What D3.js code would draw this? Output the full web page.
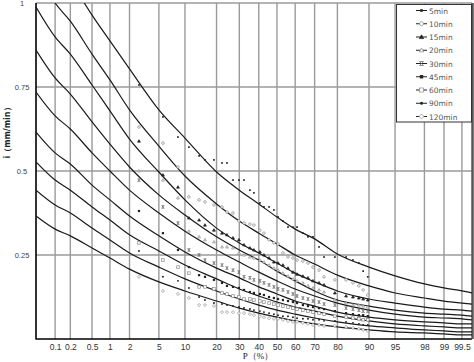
<!DOCTYPE html>
<html>
<head>
<meta charset="utf-8">
<script src="https://cdn.jsdelivr.net/npm/d3@7"></script>
<style>
  body { margin: 0; background: #fff; }
  svg { display: block; }
</style>
</head>
<body>
<div id="chart"></div>
<script>
// etiquetas y ejes
const durations = ["5min", "10min", "15min", "20min", "30min", "45min", "60min", "90min", "120min"];
const markers = ["dot", "circleOpen", "triFill", "triOpen", "hourglass", "squareFill", "squareOpen", "dot2", "diamondOpen"];
const pTicks = [0.1, 0.2, 0.5, 1, 2, 5, 10, 20, 30, 40, 50, 60, 70, 80, 90, 95, 98, 99, 99.5];
const yTicks = [0.25, 0.5, 0.75, 1];

// curvas ajustadas, P en %
const curveP = [0.0395, 0.1, 0.2, 0.5, 1, 2, 5, 10, 20, 30, 40, 50, 60, 70, 80, 90, 95, 98, 99, 99.5, 99.67];
const fit5 = [1.226, 1.125, 1.065, 0.964, 0.887, 0.804, 0.682, 0.598, 0.497, 0.443, 0.402, 0.363, 0.327, 0.298, 0.253, 0.214, 0.188, 0.164, 0.152, 0.143, 0.137];
const fit10 = [1.098, 1.0, 0.946, 0.848, 0.771, 0.682, 0.574, 0.485, 0.402, 0.351, 0.315, 0.283, 0.25, 0.223, 0.19, 0.158, 0.137, 0.122, 0.113, 0.107, 0.104];
const fit15 = [0.988, 0.899, 0.848, 0.756, 0.679, 0.595, 0.497, 0.414, 0.33, 0.286, 0.256, 0.226, 0.196, 0.17, 0.143, 0.119, 0.107, 0.095, 0.089, 0.086, 0.083];
const fit20 = [0.86, 0.777, 0.729, 0.646, 0.58, 0.512, 0.429, 0.369, 0.304, 0.265, 0.235, 0.202, 0.173, 0.143, 0.116, 0.098, 0.086, 0.077, 0.074, 0.071, 0.068];
const fit30 = [0.735, 0.664, 0.625, 0.554, 0.5, 0.443, 0.375, 0.321, 0.265, 0.229, 0.199, 0.173, 0.149, 0.128, 0.107, 0.086, 0.074, 0.065, 0.0625, 0.06, 0.057];
const fit45 = [0.616, 0.554, 0.521, 0.458, 0.414, 0.366, 0.307, 0.259, 0.211, 0.182, 0.155, 0.134, 0.113, 0.098, 0.08, 0.065, 0.057, 0.051, 0.048, 0.045, 0.045];
const fit60 = [0.527, 0.473, 0.443, 0.393, 0.354, 0.31, 0.262, 0.22, 0.179, 0.149, 0.128, 0.11, 0.095, 0.083, 0.068, 0.054, 0.045, 0.039, 0.036, 0.033, 0.033];
const fit90 = [0.443, 0.399, 0.375, 0.33, 0.295, 0.256, 0.214, 0.179, 0.143, 0.119, 0.101, 0.086, 0.074, 0.0625, 0.051, 0.039, 0.033, 0.027, 0.024, 0.021, 0.021];
const fit120 = [0.366, 0.327, 0.307, 0.271, 0.241, 0.208, 0.17, 0.143, 0.113, 0.092, 0.077, 0.065, 0.054, 0.045, 0.036, 0.027, 0.021, 0.018, 0.015, 0.012, 0.012];

// puntos observados (frecuencia empirica en %)
const obsP = [2.73, 5.61, 8.4, 11.0, 13.9, 15.8, 19.0, 22.2, 24.3, 27.0, 29.8, 32.3, 35.3, 37.4, 40.6, 42.8, 45.6, 48.3, 50.6, 53.3, 56.1, 58.8, 61.0, 64.1, 66.7, 69.2, 72.1, 74.4, 79.0, 83.2, 85.5, 87.3, 88.5, 89.7];
const obs5 = [0.756, 0.661, 0.601, 0.571, 0.545, 0.533, 0.533, 0.524, 0.524, 0.473, 0.473, 0.473, 0.443, 0.435, 0.405, 0.393, 0.393, 0.384, 0.363, 0.351, 0.333, 0.333, 0.333, 0.315, 0.304, 0.304, 0.274, 0.244, 0.244, 0.244, 0.235, 0.226, 0.202, 0.185];
const obs10 = [0.631, 0.583, 0.512, 0.423, 0.414, 0.408, 0.399, 0.393, 0.378, 0.375, 0.351, 0.345, 0.342, 0.339, 0.324, 0.315, 0.295, 0.286, 0.283, 0.256, 0.244, 0.241, 0.235, 0.232, 0.226, 0.214, 0.205, 0.185, 0.176, 0.176, 0.167, 0.158, 0.146, 0.131];
const obs15 = [0.589, 0.488, 0.452, 0.36, 0.354, 0.339, 0.324, 0.315, 0.31, 0.301, 0.295, 0.28, 0.271, 0.265, 0.259, 0.25, 0.241, 0.229, 0.226, 0.22, 0.211, 0.199, 0.193, 0.187, 0.182, 0.173, 0.167, 0.161, 0.137, 0.128, 0.125, 0.122, 0.119, 0.116];
const obs20 = [0.5, 0.473, 0.42, 0.321, 0.304, 0.295, 0.289, 0.274, 0.274, 0.271, 0.256, 0.25, 0.244, 0.241, 0.235, 0.229, 0.22, 0.211, 0.205, 0.196, 0.187, 0.179, 0.173, 0.167, 0.158, 0.152, 0.146, 0.14, 0.116, 0.107, 0.101, 0.101, 0.098, 0.095];
const obs30 = [0.473, 0.393, 0.345, 0.265, 0.25, 0.235, 0.226, 0.22, 0.211, 0.205, 0.199, 0.185, 0.182, 0.176, 0.173, 0.167, 0.161, 0.155, 0.149, 0.146, 0.14, 0.134, 0.128, 0.122, 0.119, 0.113, 0.11, 0.104, 0.101, 0.092, 0.089, 0.086, 0.083, 0.083];
const obs45 = [0.381, 0.315, 0.265, 0.214, 0.19, 0.185, 0.176, 0.167, 0.158, 0.155, 0.152, 0.146, 0.14, 0.137, 0.134, 0.131, 0.125, 0.122, 0.119, 0.116, 0.113, 0.11, 0.107, 0.101, 0.098, 0.095, 0.092, 0.089, 0.083, 0.077, 0.074, 0.071, 0.071, 0.068];
const obs60 = [0.286, 0.235, 0.214, 0.196, 0.155, 0.155, 0.149, 0.137, 0.134, 0.128, 0.125, 0.119, 0.119, 0.116, 0.113, 0.11, 0.107, 0.104, 0.101, 0.098, 0.095, 0.092, 0.089, 0.086, 0.083, 0.08, 0.077, 0.074, 0.068, 0.065, 0.062, 0.06, 0.057, 0.057];
const obs90 = [0.262, 0.185, 0.173, 0.152, 0.125, 0.116, 0.107, 0.104, 0.101, 0.098, 0.095, 0.092, 0.089, 0.086, 0.083, 0.08, 0.077, 0.074, 0.071, 0.068, 0.068, 0.065, 0.062, 0.06, 0.06, 0.057, 0.057, 0.054, 0.054, 0.051, 0.048, 0.045, 0.042, 0.042];
const obs120 = [0.185, 0.143, 0.134, 0.122, 0.101, 0.101, 0.098, 0.08, 0.08, 0.08, 0.077, 0.077, 0.074, 0.071, 0.068, 0.065, 0.062, 0.06, 0.06, 0.057, 0.054, 0.051, 0.051, 0.048, 0.045, 0.042, 0.042, 0.039, 0.039, 0.036, 0.033, 0.03, 0.027, 0.024];

const fits = [fit5, fit10, fit15, fit20, fit30, fit45, fit60, fit90, fit120];
const obs = [obs5, obs10, obs15, obs20, obs30, obs45, obs60, obs90, obs120];

// inversa de la normal (papel de probabilidad)
function probit(p) {
  const a = [-39.69683028665376, 220.9460984245205, -275.9285104469687, 138.357751867269, -30.66479806614716, 2.506628277459239];
  const b = [-54.47609879822406, 161.5858368580409, -155.6989798598866, 66.80131188771972, -13.28068155288572];
  const c = [-0.007784894002430293, -0.3223964580411365, -2.400758277161838, -2.549671010331024, 4.374664141464968, 2.938163982698783];
  const d = [0.007784695709041462, 0.3224671290700398, 2.445134137142996, 3.754408661907416];
  const pl = 0.02425;
  let q, r;
  if (p < pl) {
    q = Math.sqrt(-2 * Math.log(p));
    return (((((c[0]*q+c[1])*q+c[2])*q+c[3])*q+c[4])*q+c[5]) / ((((d[0]*q+d[1])*q+d[2])*q+d[3])*q+1);
  }
  if (p <= 1 - pl) {
    q = p - 0.5; r = q * q;
    return (((((a[0]*r+a[1])*r+a[2])*r+a[3])*r+a[4])*r+a[5])*q / (((((b[0]*r+b[1])*r+b[2])*r+b[3])*r+b[4])*r+1);
  }
  q = Math.sqrt(-2 * Math.log(1 - p));
  return -(((((c[0]*q+c[1])*q+c[2])*q+c[3])*q+c[4])*q+c[5]) / ((((d[0]*q+d[1])*q+d[2])*q+d[3])*q+1);
}

const W = 474, H = 362;
const mLeft = 36, mRight = 472, mTop = 3, mBottom = 339;

const svg = d3.select("#chart").append("svg")
  .attr("width", W).attr("height", H)
  .style("font-family", "'DejaVu Sans', sans-serif");

const x = d3.scaleLinear()
  .domain([probit(0.000395), probit(0.9967)])
  .range([mLeft, mRight]);
const px = p => x(probit(p / 100));
const y = d3.scaleLinear().domain([0, 1]).range([mBottom, mTop]);

// rejilla
const grid = svg.append("g").attr("stroke", "#9a9a9a").attr("stroke-width", 1.4);
grid.selectAll("line.v").data(pTicks).join("line").attr("class", "v")
  .attr("x1", d => px(d)).attr("x2", d => px(d))
  .attr("y1", mTop).attr("y2", mBottom);
grid.selectAll("line.h").data(yTicks).join("line").attr("class", "h")
  .attr("x1", mLeft).attr("x2", mRight)
  .attr("y1", d => y(d)).attr("y2", d => y(d));

// eje X
const xAxis = svg.append("g")
  .attr("transform", `translate(0,${mBottom})`)
  .call(d3.axisBottom(x)
    .tickValues(pTicks.map(p => probit(p / 100)))
    .tickFormat((d, i) => pTicks[i])
    .tickSize(0).tickPadding(5));
xAxis.select(".domain").remove();
xAxis.selectAll("text").attr("font-size", 8.5).attr("fill", "#333");

// eje Y
const yAxis = svg.append("g")
  .attr("transform", `translate(${mLeft},0)`)
  .call(d3.axisLeft(y).tickValues(yTicks).tickFormat(d => String(d)).tickSize(0).tickPadding(6));
yAxis.select(".domain").remove();
yAxis.selectAll("text").attr("font-size", 7.5).attr("fill", "#444")
  .attr("text-anchor", "middle").attr("x", -14);

// lineas de los ejes
svg.append("line").attr("x1", mLeft).attr("x2", mLeft).attr("y1", mTop).attr("y2", mBottom + 0.5)
  .attr("stroke", "#000").attr("stroke-width", 1.6);
svg.append("line").attr("x1", mLeft).attr("x2", mRight).attr("y1", mBottom).attr("y2", mBottom)
  .attr("stroke", "#000").attr("stroke-width", 1.6);
svg.append("line").attr("x1", mRight + 0.5).attr("x2", mRight + 0.5).attr("y1", mTop).attr("y2", mBottom)
  .attr("stroke", "#555").attr("stroke-width", 2.5);

// titulos
svg.append("text")
  .attr("transform", `translate(10,${(mTop + mBottom) / 2 - 40}) rotate(-90)`)
  .attr("text-anchor", "middle").attr("font-size", 8).attr("font-weight", "bold")
  .attr("fill", "#222").text("i（mm/min）");
svg.append("text")
  .attr("x", 258).attr("y", 359).attr("text-anchor", "middle")
  .attr("font-size", 9).attr("font-family", "'Liberation Serif', serif")
  .attr("fill", "#222").text("P（%）");

// recorte del area del grafico
svg.append("clipPath").attr("id", "area")
  .append("rect").attr("x", mLeft).attr("y", mTop).attr("width", mRight - mLeft).attr("height", mBottom - mTop);

const line = d3.line()
  .x((d, i) => px(curveP[i]))
  .y(d => y(d))
  .curve(d3.curveMonotoneX);

svg.append("g").attr("clip-path", "url(#area)")
  .selectAll("path").data(fits).join("path")
  .attr("d", line)
  .attr("fill", "none").attr("stroke", "#1a1a1a").attr("stroke-width", 1.2);

// marcadores
function marker(g, type, cx, cy, s) {
  const filled = "#222", open = "#888";
  if (type === "dot") {
    g.append("rect").attr("x", cx - s * 0.65).attr("y", cy - s * 0.65).attr("width", s * 1.3).attr("height", s * 1.3).attr("fill", filled);
  } else if (type === "dot2") {
    g.append("circle").attr("cx", cx).attr("cy", cy).attr("r", s * 0.75).attr("fill", filled);
  } else if (type === "circleOpen") {
    g.append("circle").attr("cx", cx).attr("cy", cy).attr("r", s).attr("fill", "#fff").attr("stroke", open).attr("stroke-width", 0.7);
  } else if (type === "triFill" || type === "triOpen") {
    g.append("path").attr("d", `M${cx},${cy - s * 1.1}L${cx + s * 1.1},${cy + s * 0.8}L${cx - s * 1.1},${cy + s * 0.8}Z`)
      .attr("fill", type === "triFill" ? filled : "#fff")
      .attr("stroke", type === "triFill" ? filled : open).attr("stroke-width", 0.7);
  } else if (type === "hourglass") {
    g.append("path").attr("d", `M${cx - s},${cy - s}H${cx + s}M${cx - s},${cy + s}H${cx + s}M${cx - s},${cy - s}L${cx + s},${cy + s}M${cx + s},${cy - s}L${cx - s},${cy + s}`)
      .attr("fill", "none").attr("stroke", "#666").attr("stroke-width", 0.7);
  } else if (type === "squareFill" || type === "squareOpen") {
    const h = type === "squareFill" ? s * 0.85 : s;
    g.append("rect").attr("x", cx - h).attr("y", cy - h).attr("width", 2 * h).attr("height", 2 * h)
      .attr("fill", type === "squareFill" ? filled : "#fff")
      .attr("stroke", type === "squareFill" ? "none" : open).attr("stroke-width", 0.7);
  } else if (type === "diamondOpen") {
    g.append("path").attr("d", `M${cx},${cy - s * 1.2}L${cx + s * 1.2},${cy}L${cx},${cy + s * 1.2}L${cx - s * 1.2},${cy}Z`)
      .attr("fill", "#fff").attr("stroke", open).attr("stroke-width", 0.7);
  }
}

const pts = svg.append("g");
obs.forEach((serie, k) => {
  serie.forEach((v, i) => marker(pts, markers[k], px(obsP[i]), y(v), 1.3));
});

// leyenda
const leg = svg.append("g");
leg.append("rect").attr("x", 396.5).attr("y", 4.5).attr("width", 75).attr("height", 117.5)
  .attr("fill", "#fff").attr("stroke", "#333").attr("stroke-width", 1);
durations.forEach((name, k) => {
  const ly = 10.5 + k * 13.25;
  leg.append("line").attr("x1", 416).attr("x2", 427).attr("y1", ly).attr("y2", ly)
    .attr("stroke", "#222").attr("stroke-width", 1);
  marker(leg, markers[k], 421.5, ly, 2);
  leg.append("text").attr("x", 429).attr("y", ly + 3).attr("font-size", 7.5)
    .attr("fill", "#555").text(name);
});
</script>
</body>
</html>
